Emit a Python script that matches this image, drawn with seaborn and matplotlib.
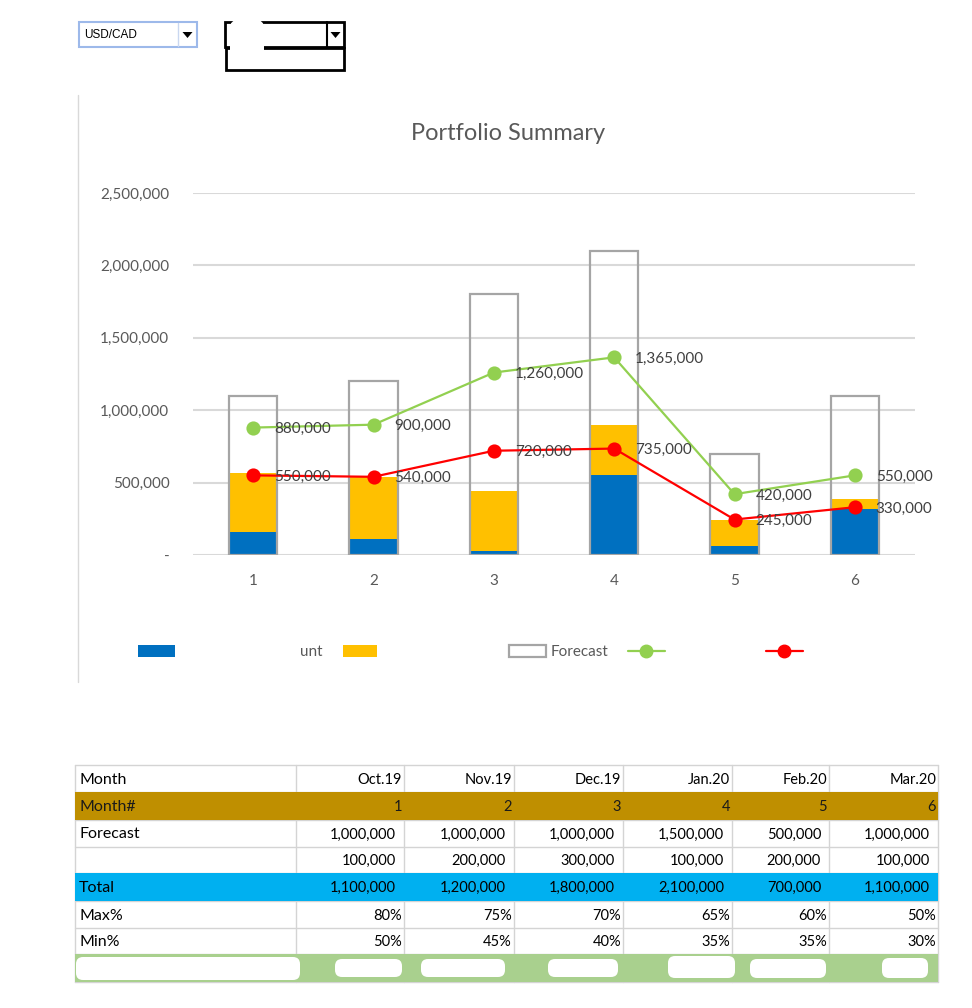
import numpy as np
import pandas as pd
import matplotlib
matplotlib.use("Agg")
import matplotlib.pyplot as plt
import seaborn as sns
from matplotlib.patches import Rectangle, Patch, FancyBboxPatch, Polygon
from matplotlib.lines import Line2D
from matplotlib.ticker import FuncFormatter

# ---------------- data ----------------
months = ["Oct.19", "Nov.19", "Dec.19", "Jan.20", "Feb.20", "Mar.20"]
month_nums = [1, 2, 3, 4, 5, 6]
forecast_vals = [1000000, 1000000, 1000000, 1500000, 500000, 1000000]
other_vals = [100000, 200000, 300000, 100000, 200000, 100000]
total_vals = [1100000, 1200000, 1800000, 2100000, 700000, 1100000]
max_pct = [80, 75, 70, 65, 60, 50]
min_pct = [50, 45, 40, 35, 35, 30]
max_vals = [880000, 900000, 1260000, 1365000, 420000, 550000]
min_vals = [550000, 540000, 720000, 735000, 245000, 330000]
blue_vals = [160000, 110000, 30000, 550000, 65000, 315000]
orange_vals = [405000, 430000, 410000, 350000, 180000, 70000]
yticks = [0, 500000, 1000000, 1500000, 2000000, 2500000]

title = "Portfolio Summary"
currency = "USD/CAD"
row_labels = ["Month", "Month#", "Forecast", "", "Total", "Max%", "Min%", ""]

C_BLUE = "#0070C0"
C_ORANGE = "#FFC000"
C_GREY = "#A5A5A5"
C_GREEN = "#92D050"
C_RED = "#FF0000"
C_TXT = "#595959"

sns.set_theme(style="white")
plt.rcParams['font.family'] = ['Lato', 'DejaVu Sans']

W, H = 972, 1008
fig = plt.figure(figsize=(W / 100, H / 100), dpi=100)
fig.patch.set_facecolor("white")

bg = fig.add_axes([0, 0, 1, 1])
bg.set_xlim(0, W)
bg.set_ylim(H, 0)
bg.axis('off')
bg.set_zorder(0)

ax = fig.add_axes([193 / W, 1 - 555 / H, (915 - 193) / W, (555 - 193) / H])
ax.set_zorder(2)
ax.patch.set_alpha(0)

df = pd.DataFrame({
    "month": [str(n) for n in month_nums],
    "blue": blue_vals,
    "orange": orange_vals,
    "total": total_vals,
    "maxv": max_vals,
    "minv": min_vals,
})
df["stack"] = df["blue"] + df["orange"]

sns.barplot(data=df, x="month", y="stack", color=C_ORANGE, width=0.4, ax=ax,
            saturation=1, errorbar=None, zorder=2, linewidth=0)
sns.barplot(data=df, x="month", y="blue", color=C_BLUE, width=0.4, ax=ax,
            saturation=1, errorbar=None, zorder=3, linewidth=0)
sns.barplot(data=df, x="month", y="total", color=C_GREY, width=0.4, ax=ax,
            fill=False, errorbar=None, linewidth=1.6, zorder=4)

sns.pointplot(data=df, x="month", y="maxv", color=C_GREEN, markers="o", ax=ax,
              errorbar=None, markersize=9, linewidth=1.6, zorder=5)
sns.pointplot(data=df, x="month", y="minv", color=C_RED, markers="o", ax=ax,
              errorbar=None, markersize=9, linewidth=1.6, zorder=6)

for i, v in enumerate(max_vals):
    ax.annotate(f"{v:,}", (i, v), xytext=(15, -1), textcoords='offset points',
                ha='left', va='center', fontsize=11, color="#404040", zorder=7)
for i, v in enumerate(min_vals):
    ax.annotate(f"{v:,}", (i, v), xytext=(15, -1), textcoords='offset points',
                ha='left', va='center', fontsize=11, color="#404040", zorder=7)

ax.set_xlim(-0.5, len(months) - 0.5)
ax.set_ylim(0, 2500000)
ax.set_yticks(yticks)
ax.yaxis.set_major_formatter(FuncFormatter(lambda v, p: "-" if v == 0 else f"{v:,.0f}"))
ax.yaxis.grid(True, color="#D9D9D9", linewidth=1.5)
ax.xaxis.grid(False)
ax.set_axisbelow(True)
for s in ax.spines.values():
    s.set_visible(False)
ax.set_xlabel("")
ax.set_ylabel("")
ax.tick_params(axis='y', length=0, pad=17, labelsize=11, labelcolor=C_TXT)
ax.tick_params(axis='x', length=0, pad=14, labelsize=11, labelcolor=C_TXT)

# title & chart frame
bg.text(508, 133, title, ha='center', va='center', fontsize=17, color=C_TXT)
bg.plot([78, 78], [95, 682], color="#D9D9D9", lw=1)

# legend (separate entries positioned like the reference)
fs = 11
def add_leg(handle, label, x, pad, hl):
    fig.legend([handle], [label], loc='center left', bbox_to_anchor=(x / W, 1 - 652 / H),
               frameon=False, fontsize=fs, handlelength=hl, handleheight=0.85,
               handletextpad=pad, borderpad=0, borderaxespad=0, labelcolor=C_TXT,
               numpoints=1)

add_leg(Patch(facecolor=C_BLUE, edgecolor='none'), "unt", 138, 8.2, 2.42)
add_leg(Patch(facecolor=C_ORANGE, edgecolor='none'), " ", 343, 0.3, 2.25)
add_leg(Patch(facecolor='white', edgecolor=C_GREY, linewidth=1.6), "Forecast", 509, 0.3, 2.45)
add_leg(Line2D([], [], color=C_GREEN, lw=1.6, marker='o', markersize=9), " ", 628, 0.3, 2.42)
add_leg(Line2D([], [], color=C_RED, lw=1.6, marker='o', markersize=9), " ", 766, 0.3, 2.42)

# dropdowns at the top
bg.add_patch(Rectangle((79, 22), 118, 25, facecolor='white', edgecolor="#9DB9EA", lw=1.5))
bg.plot([178, 178], [23, 46], color="#C9D7F0", lw=1)
bg.add_patch(Polygon([(182.5, 32), (192.5, 32), (187.5, 38)], closed=True, facecolor='black', edgecolor='none'))
bg.text(84, 34.5, currency, ha='left', va='center', fontsize=8.5, color='black',
        family=['Liberation Sans', 'DejaVu Sans'])

bg.add_patch(Rectangle((225, 22), 119, 25, facecolor='white', edgecolor='black', lw=2))
bg.plot([327, 327], [22, 47], color='black', lw=1.5)
bg.add_patch(Polygon([(330.5, 32), (340.5, 32), (335.5, 38)], closed=True, facecolor='black', edgecolor='none'))
bg.add_patch(Rectangle((226, 48), 118, 22, facecolor='white', edgecolor='black', lw=2))
bg.add_patch(FancyBboxPatch((230, 20), 34, 44, boxstyle="round,pad=0,rounding_size=8",
                            facecolor='white', edgecolor='none', zorder=5))

# ---------------- table ----------------
cols = [75, 296, 404, 514, 623, 732, 829, 938]
rows = [765, 792, 820, 847, 873, 901, 928, 954, 982]
tfs = 10.5
lfs = 11.5
grid_c = "#D4D4D4"

for y in rows:
    bg.plot([cols[0], cols[-1]], [y, y], color=grid_c, lw=1, zorder=1)
for x in cols:
    bg.plot([x, x], [rows[0], rows[-1]], color=grid_c, lw=1, zorder=1)

fills = {1: "#BF8F00", 4: "#00B0F0", 7: "#A9D08E"}
for r, c in fills.items():
    bg.add_patch(Rectangle((cols[0], rows[r]), cols[-1] - cols[0], rows[r + 1] - rows[r],
                           facecolor=c, edgecolor='none', zorder=2))

row_values = [
    (months, 2),
    ([str(n) for n in month_nums], 2),
    ([f"{v:,}" for v in forecast_vals], 8),
    ([f"{v:,}" for v in other_vals], 8),
    ([f"{v:,}" for v in total_vals], 8),
    ([f"{v}%" for v in max_pct], 2),
    ([f"{v}%" for v in min_pct], 2),
]
for r, (vals, pad) in enumerate(row_values):
    yc = (rows[r] + rows[r + 1]) / 2 + 1
    tc = "#1A1A1A" if r == 1 else "black"
    bg.text(cols[0] + 4, yc, row_labels[r], ha='left', va='center', fontsize=lfs, color=tc, zorder=3)
    for j, v in enumerate(vals):
        bg.text(cols[j + 2] - pad, yc, v, ha='right', va='center', fontsize=tfs, color=tc, zorder=3)

# redaction blobs in the green row
blobs = [(76, 957, 224, 23), (335, 959, 67, 18), (421, 959, 84, 18), (548, 959, 70, 18),
         (668, 956, 67, 22), (750, 959, 76, 19), (882, 958, 46, 20)]
for (bx, by, bw, bh) in blobs:
    bg.add_patch(FancyBboxPatch((bx, by), bw, bh, boxstyle="round,pad=0,rounding_size=7",
                                facecolor='white', edgecolor='none', zorder=3))

fig.savefig("out.png", dpi=100, facecolor='white')
